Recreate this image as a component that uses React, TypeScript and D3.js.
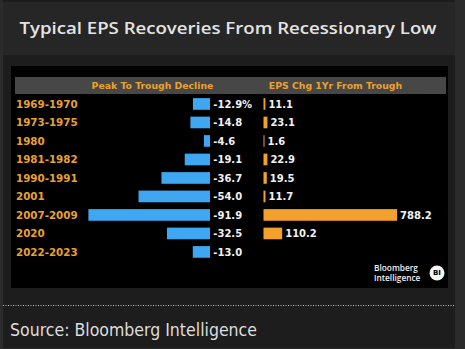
import React from "react";
import * as d3 from "d3";

const periods = ["1969-1970", "1973-1975", "1980", "1981-1982", "1990-1991", "2001", "2007-2009", "2020", "2022-2023"];
const peakToTrough = [-12.9, -14.8, -4.6, -19.1, -36.7, -54.0, -91.9, -32.5, -13.0];
const epsChg: (number | null)[] = [11.1, 23.1, 1.6, 22.9, 19.5, 11.7, 788.2, 110.2, null];
const headers = ["Peak To Trough Decline", "EPS Chg 1Yr From Trough"];
const title = "Typical EPS Recoveries From Recessionary Low";
const source = "Source: Bloomberg Intelligence";

const W = 465;
const H = 349;
const GOLD = "#e9a232";
const BLUE = "#3fa7f2";
const ORANGE = "#f3a12c";

export default function App() {
  const y = d3.scaleBand<string>().domain(periods).range([91.3, 264.6]).padding(0.37);
  const xBlue = d3.scaleLinear().domain([0, 91.9]).range([0, 121.6]);
  const xOrange = d3.scaleLinear().domain([0, 788.2]).range([0, 133.6]);
  const blueRight = 210;
  const orangeLeft = 263.5;
  const fmt = (v: number, i: number) => (i === 0 ? `${v.toFixed(1)}%` : v.toFixed(1));

  return (
    <svg width={W} height={H} style={{ position: "fixed", left: 0, top: 0 }}>
      <rect x={0} y={0} width={W} height={H} fill="#2b2b2b" />
      <rect x={3} y={0} width={452} height={348} fill="#1d1d1d" />
      <rect x={3} y={2} width={452} height={53} fill="#262626" />
      <text
        x={228}
        y={34}
        textAnchor="middle"
        fill="#e4e4e4"
        fontFamily="'Open Sans', sans-serif"
        fontWeight={600}
        fontSize={17}
        textLength={417}
        lengthAdjust="spacingAndGlyphs"
      >
        {title}
      </text>
      <rect x={11} y={66} width={437} height={222} fill="#000" />
      <rect x={15} y={77} width={431} height={17} fill="#474747" />
      <g fontFamily="'DejaVu Sans', sans-serif" fontWeight="bold">
        <text x={152.5} y={89} textAnchor="middle" fill={GOLD} fontSize={9.3}>
          {headers[0]}
        </text>
        <text x={335.5} y={89} textAnchor="middle" fill={GOLD} fontSize={9.3}>
          {headers[1]}
        </text>
        {periods.map((p, i) => {
          const yc = (y(p) ?? 0) + y.bandwidth() / 2;
          const v = peakToTrough[i];
          const w = xBlue(Math.abs(v));
          const o = epsChg[i];
          const ow = o == null ? 0 : Math.max(1, xOrange(o));
          return (
            <g key={p}>
              <text x={16} y={yc} dy="0.36em" fill={GOLD} fontSize={10.3}>
                {p}
              </text>
              <rect x={blueRight - w} y={y(p)} width={w} height={y.bandwidth()} fill={BLUE} />
              <text x={blueRight + 3.3} y={yc} dy="0.36em" fill="#f2f2f2" fontSize={10}>
                {fmt(v, i)}
              </text>
              {o != null && (
                <>
                  <rect x={orangeLeft} y={y(p)} width={ow} height={y.bandwidth()} fill={ORANGE} />
                  <text x={orangeLeft + ow + 3} y={yc} dy="0.36em" fill="#f2f2f2" fontSize={10}>
                    {o.toFixed(1)}
                  </text>
                </>
              )}
            </g>
          );
        })}
      </g>
      <g fontFamily="'Open Sans', sans-serif" fontWeight={600} fill="#f0f0f0" fontSize={8.3}>
        <text x={374} y={271}>Bloomberg</text>
        <text x={374} y={281}>Intelligence</text>
      </g>
      <circle cx={437} cy={273} r={7.5} fill="#f5f5f5" />
      <text
        x={437}
        y={273}
        dy="0.35em"
        textAnchor="middle"
        fill="#000"
        fontFamily="'DejaVu Sans', sans-serif"
        fontWeight="bold"
        fontSize={7}
      >
        BI
      </text>
      <line x1={3} x2={455} y1={305.5} y2={305.5} stroke="#c4c4c4" strokeWidth={1} strokeDasharray="1,1.5" />
      <text
        x={10}
        y={336}
        fill="#dedede"
        fontFamily="'DejaVu Sans Condensed', 'DejaVu Sans', sans-serif"
        fontSize={17}
        textLength={247}
        lengthAdjust="spacingAndGlyphs"
      >
        {source}
      </text>
    </svg>
  );
}
